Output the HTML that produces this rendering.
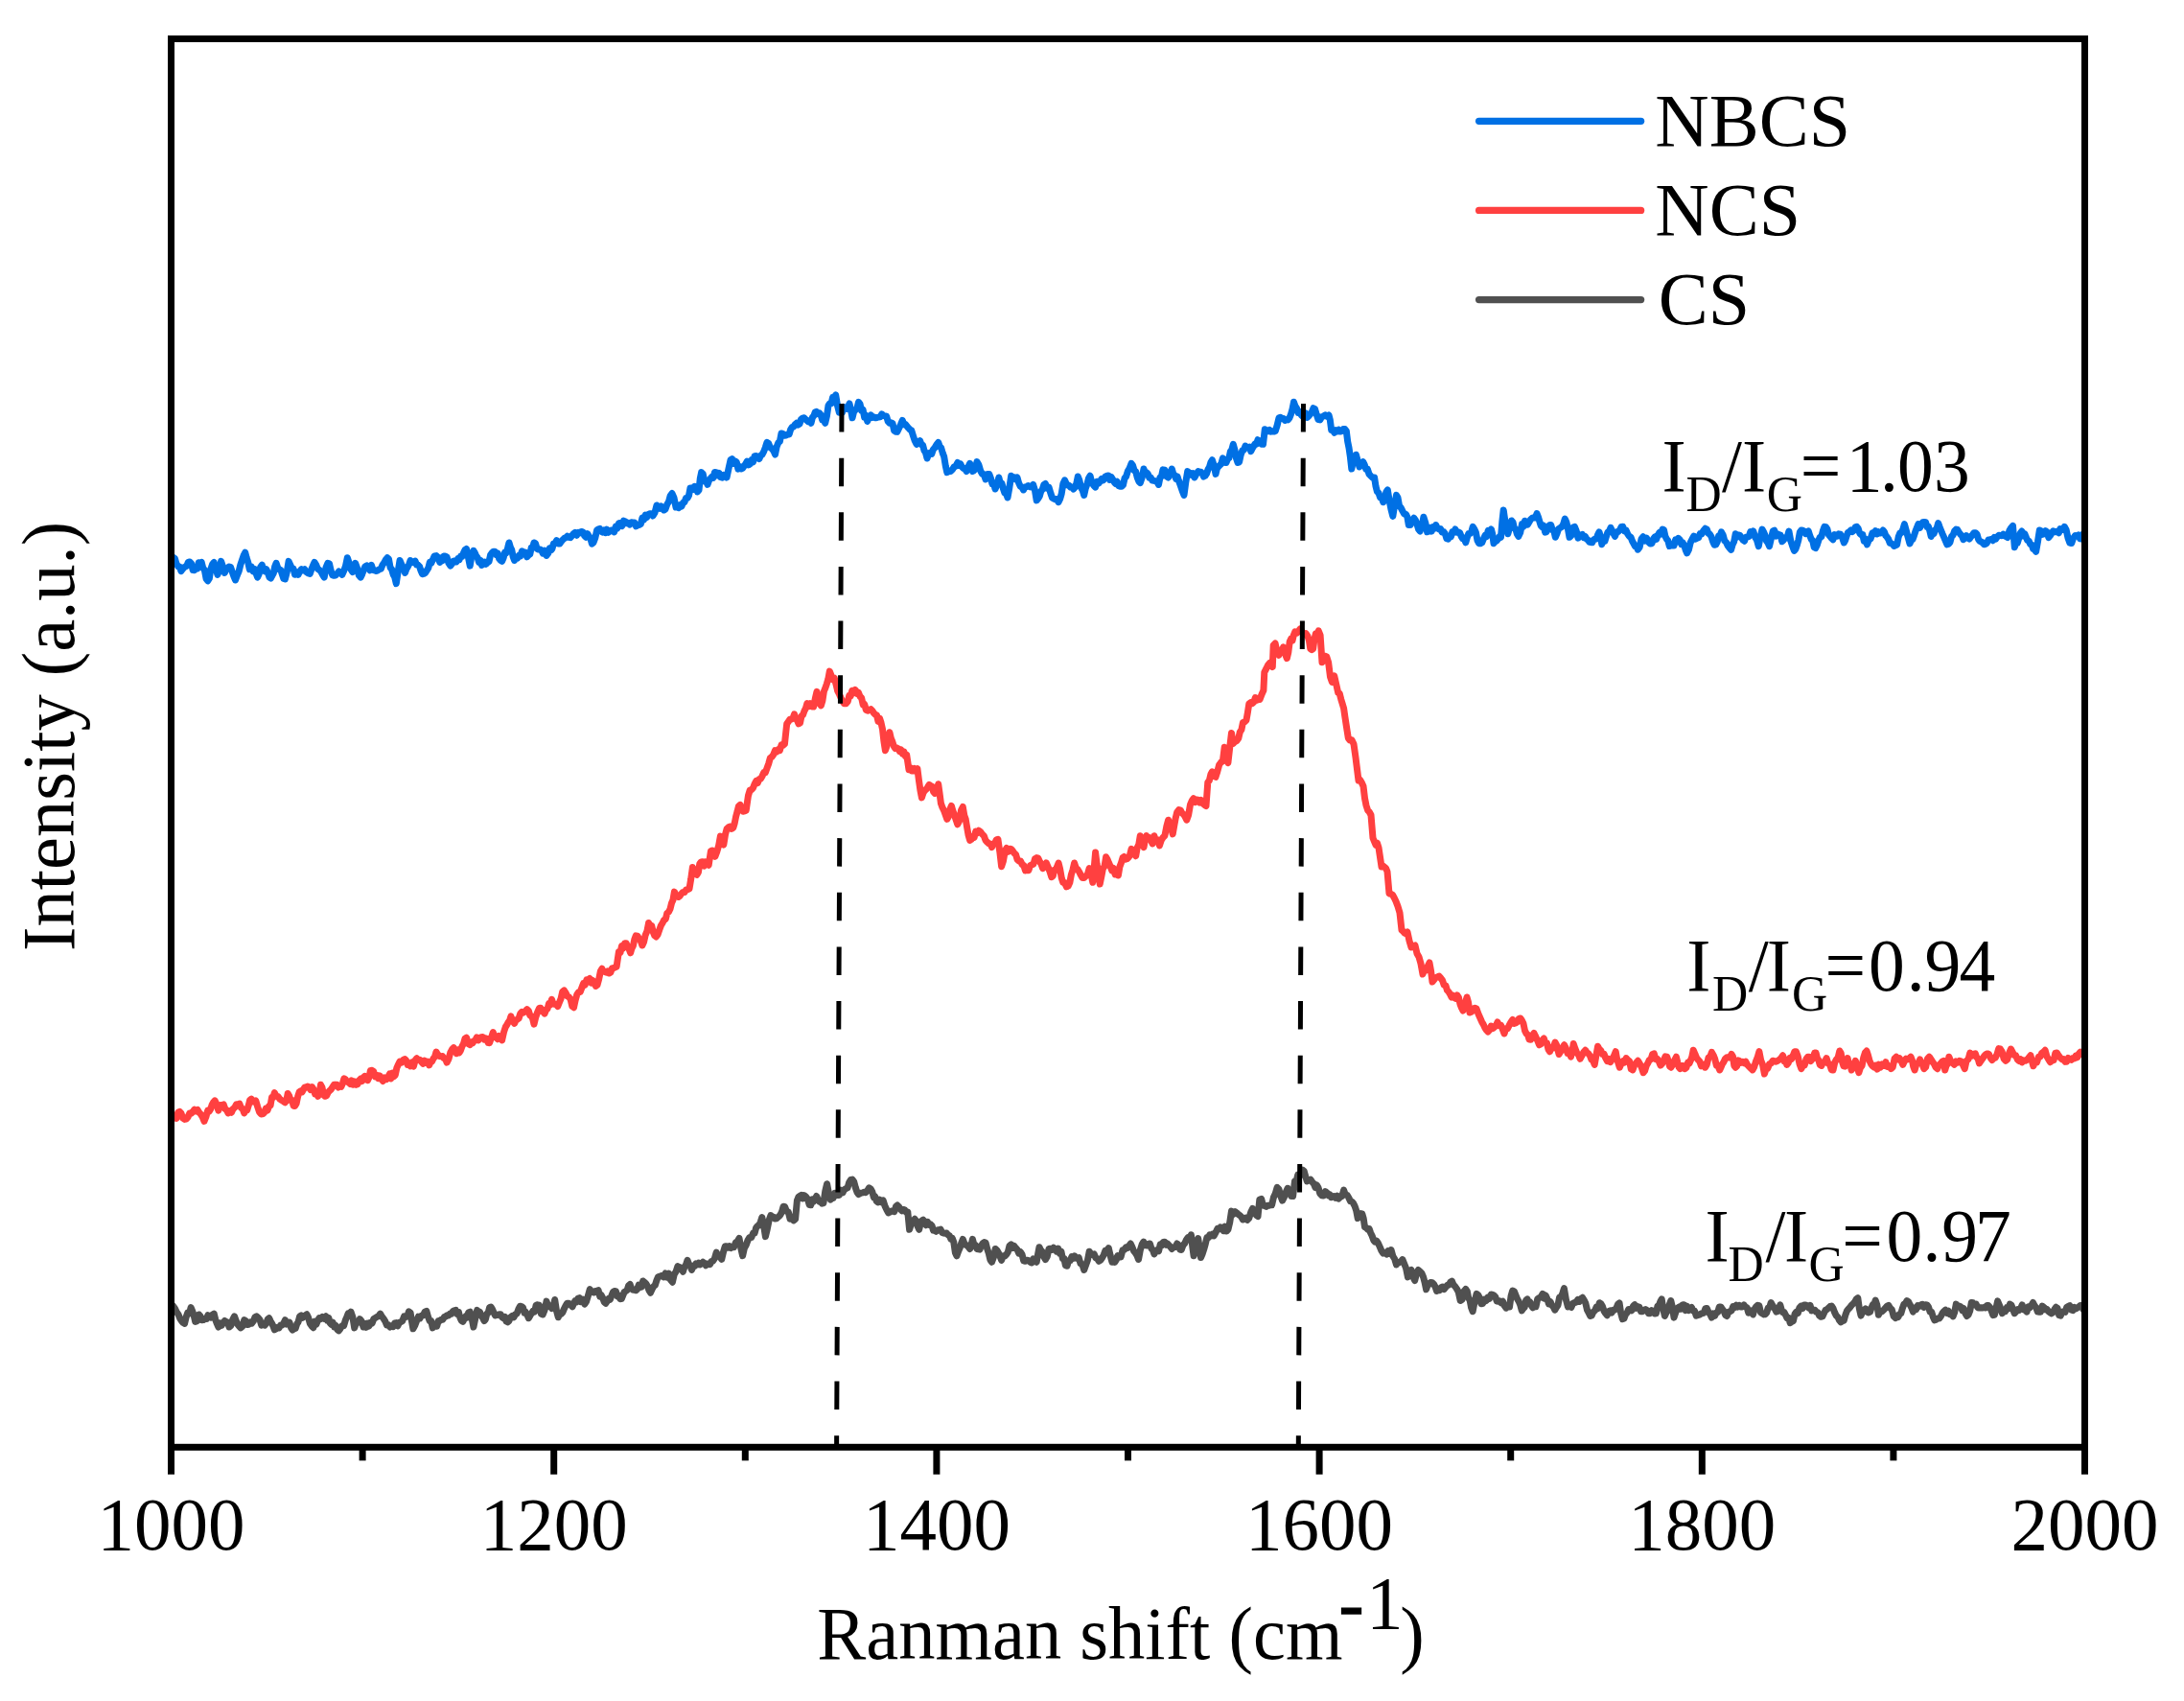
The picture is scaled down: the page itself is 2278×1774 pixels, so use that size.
<!DOCTYPE html>
<html><head><meta charset="utf-8"><title>Raman spectra</title>
<style>html,body{margin:0;padding:0;background:#fff;}svg{display:block;}</style>
</head><body>
<svg width="2278" height="1774" viewBox="0 0 2278 1774">
<rect x="0" y="0" width="2278" height="1774" fill="#fff"/>
<defs><clipPath id="pa"><rect x="178.5" y="40.5" width="1996" height="1469"/></clipPath></defs>
<g clip-path="url(#pa)">
<path d="M178.5 1362.0L180.4 1361.7L182.4 1364.5L184.3 1368.5L186.1 1371.1L188.0 1375.6L189.5 1377.8L191.1 1379.5L192.6 1380.3L194.2 1373.5L195.8 1369.0L197.5 1369.8L199.1 1363.6L200.6 1367.1L202.2 1371.9L203.7 1378.4L205.6 1377.7L207.4 1371.0L209.0 1372.7L210.5 1376.8L212.1 1376.6L213.7 1375.5L215.3 1375.6L216.9 1371.7L218.4 1373.7L220.0 1374.2L221.6 1371.2L223.2 1370.1L224.7 1376.2L226.3 1380.4L227.8 1384.0L229.4 1379.8L231.1 1382.3L232.7 1379.7L234.3 1377.5L235.9 1378.5L237.4 1379.0L239.0 1384.0L240.8 1382.5L242.7 1376.4L244.5 1372.8L246.1 1377.1L247.8 1381.1L249.4 1383.2L251.0 1384.9L252.8 1383.3L254.7 1376.6L256.3 1377.5L257.8 1381.5L259.4 1381.2L261.0 1379.0L262.6 1380.1L264.3 1377.9L265.9 1373.8L267.6 1372.8L269.3 1374.4L271.0 1376.3L272.7 1382.1L274.4 1380.3L276.1 1382.1L277.6 1380.4L279.2 1376.0L280.7 1374.7L282.1 1377.8L283.5 1380.1L284.9 1382.9L286.3 1386.8L287.9 1385.9L289.5 1384.4L291.1 1384.9L292.6 1382.1L294.2 1382.1L295.8 1380.2L297.4 1376.6L298.9 1381.1L300.5 1380.7L302.0 1379.2L303.6 1384.9L305.1 1387.1L306.7 1385.8L308.2 1385.4L309.7 1380.7L311.1 1378.7L312.6 1372.9L314.1 1371.9L315.6 1374.3L317.1 1373.1L318.5 1371.7L320.0 1370.8L321.5 1373.8L323.4 1380.5L325.2 1383.0L326.8 1384.7L328.3 1378.1L329.9 1381.1L331.4 1377.5L332.9 1374.7L334.5 1375.6L336.3 1373.4L338.2 1375.3L340.0 1372.8L341.4 1377.1L342.8 1374.3L344.2 1379.8L345.6 1381.2L347.2 1379.2L348.7 1384.0L350.2 1382.5L351.8 1386.6L353.3 1387.9L354.9 1385.8L356.7 1382.8L358.6 1382.7L360.4 1376.6L361.8 1373.4L363.2 1369.9L364.6 1370.9L366.0 1368.2L367.9 1373.7L369.7 1384.9L371.1 1380.8L372.5 1379.7L373.9 1378.6L375.3 1375.6L377.1 1377.7L379.0 1384.0L380.5 1380.3L382.0 1384.3L383.4 1380.1L384.9 1383.0L386.4 1379.3L388.1 1380.1L389.8 1375.5L391.5 1374.5L393.2 1373.3L394.9 1372.5L396.6 1370.1L398.3 1373.0L400.0 1375.1L401.7 1377.8L403.4 1382.0L405.1 1381.7L406.8 1384.0L408.4 1382.8L410.1 1383.7L411.7 1380.0L413.3 1379.6L414.9 1382.8L416.6 1379.3L418.2 1378.6L419.8 1377.5L421.5 1372.9L423.1 1373.6L424.8 1372.9L426.4 1367.9L428.1 1369.1L429.5 1378.1L430.9 1385.8L432.8 1382.4L434.6 1377.5L436.3 1373.2L438.0 1374.9L439.7 1372.2L441.4 1371.8L443.1 1368.1L444.8 1367.3L446.4 1372.9L448.1 1377.5L449.7 1377.6L451.3 1384.9L452.8 1380.8L454.3 1383.0L455.7 1383.2L457.2 1377.5L458.7 1377.5L460.2 1376.3L461.8 1376.2L463.4 1373.6L464.9 1373.0L466.4 1371.7L468.0 1371.9L469.5 1370.0L471.0 1370.3L472.4 1367.4L473.9 1366.8L475.4 1366.4L476.9 1370.4L478.4 1368.4L479.8 1374.0L481.3 1377.4L482.8 1378.4L484.3 1375.2L485.8 1372.7L487.2 1374.1L488.7 1368.7L490.2 1368.2L492.0 1374.2L493.9 1384.0L495.8 1374.8L497.6 1366.4L499.1 1369.8L500.6 1368.5L502.0 1372.0L503.5 1374.3L505.0 1377.5L506.4 1376.0L507.8 1370.2L509.2 1369.2L510.6 1363.6L512.1 1363.1L513.6 1365.6L515.0 1368.9L516.5 1371.8L518.0 1371.0L519.4 1371.4L520.8 1370.8L522.2 1370.8L523.6 1373.8L525.1 1374.7L526.6 1373.4L528.0 1377.9L529.5 1378.8L531.0 1377.5L532.6 1373.7L534.2 1372.4L535.9 1373.8L537.5 1370.9L539.1 1370.0L540.8 1365.4L542.4 1362.2L544.0 1362.6L545.5 1363.8L547.0 1369.2L548.4 1368.5L549.9 1371.4L551.4 1374.7L553.0 1371.9L554.5 1369.6L556.0 1367.2L557.6 1368.0L559.2 1361.1L560.7 1360.8L562.5 1361.2L564.4 1370.3L566.2 1371.0L568.1 1366.3L570.0 1357.1L571.8 1362.5L573.7 1361.6L575.5 1364.5L577.1 1362.7L578.7 1355.5L580.5 1367.2L582.3 1373.8L583.8 1369.7L585.4 1370.4L586.9 1368.5L588.4 1365.0L590.0 1361.7L591.5 1359.2L593.3 1359.2L595.2 1360.7L597.0 1362.9L598.5 1359.4L599.9 1356.6L601.4 1357.9L602.8 1354.3L604.3 1353.7L606.1 1357.7L608.0 1355.2L609.8 1360.1L611.6 1357.3L613.5 1350.9L615.3 1344.5L616.8 1347.4L618.2 1347.6L619.7 1348.0L621.1 1346.5L622.6 1346.4L624.1 1345.6L625.7 1352.1L627.2 1350.8L628.7 1353.7L630.3 1358.0L631.8 1359.2L633.3 1357.2L634.8 1354.4L636.3 1355.4L637.9 1351.3L639.4 1347.6L640.9 1346.4L642.4 1346.6L643.9 1351.8L645.3 1351.2L646.8 1354.7L648.3 1354.6L649.8 1351.0L651.2 1347.3L652.7 1346.6L654.1 1345.5L655.6 1340.9L657.1 1339.5L658.6 1343.9L660.2 1345.2L661.7 1345.1L663.2 1345.8L664.7 1344.5L666.2 1340.1L667.7 1342.4L669.1 1342.3L670.6 1336.0L672.1 1337.2L673.7 1338.6L675.3 1341.3L676.9 1345.6L678.5 1348.2L680.1 1344.5L681.7 1341.6L683.3 1340.3L684.9 1335.4L686.4 1331.7L687.8 1331.2L689.3 1330.9L690.7 1330.2L692.2 1331.7L694.0 1327.9L695.9 1332.1L697.7 1328.1L699.5 1334.8L701.4 1337.2L703.2 1329.2L705.1 1326.2L706.9 1320.7L708.7 1321.4L710.6 1323.3L712.4 1326.2L713.9 1321.3L715.5 1319.1L717.0 1314.3L718.5 1318.2L720.0 1320.2L721.5 1324.4L723.0 1321.1L724.4 1320.5L725.9 1317.8L727.3 1318.9L728.8 1317.1L730.3 1318.9L731.8 1317.5L733.2 1316.2L734.7 1317.3L736.2 1319.8L737.7 1318.1L739.1 1318.6L740.6 1318.7L742.0 1315.4L743.5 1315.2L745.4 1312.5L747.2 1306.1L749.0 1309.3L750.9 1310.6L752.7 1313.4L754.5 1305.8L756.3 1299.7L757.8 1299.8L759.4 1301.2L760.9 1299.7L762.4 1301.5L764.0 1300.2L765.5 1300.6L767.3 1296.0L769.2 1294.7L771.0 1291.4L772.8 1301.7L774.6 1309.7L776.4 1301.7L778.3 1298.3L780.1 1293.3L781.9 1290.4L783.8 1290.6L785.6 1285.9L787.1 1286.1L788.7 1280.3L790.2 1278.6L791.7 1278.0L793.3 1274.3L794.8 1269.5L796.6 1278.1L798.4 1289.6L800.2 1282.1L802.1 1272.7L803.9 1267.6L805.4 1269.9L806.9 1269.3L808.3 1271.1L809.8 1270.9L811.3 1269.5L812.8 1268.3L814.2 1266.5L815.7 1263.3L817.1 1258.3L818.6 1258.5L820.4 1263.3L822.3 1264.1L824.1 1271.3L825.9 1269.2L827.8 1272.9L829.6 1271.3L831.4 1252.0L832.9 1248.2L834.3 1247.4L835.8 1246.4L837.2 1250.0L838.7 1246.6L840.5 1248.0L842.4 1250.4L844.2 1256.6L845.7 1256.8L847.2 1250.7L848.6 1253.2L850.1 1250.4L851.6 1247.5L853.1 1251.0L854.5 1253.1L856.0 1252.4L857.4 1255.1L858.9 1254.8L860.8 1242.0L862.6 1234.7L864.4 1244.5L866.2 1251.1L867.7 1249.7L869.1 1249.5L870.6 1244.4L872.0 1246.8L873.5 1243.8L875.3 1246.4L877.2 1241.2L879.0 1243.8L880.7 1240.5L882.4 1239.6L884.0 1238.9L885.7 1233.1L887.4 1230.5L889.1 1230.1L890.7 1232.5L892.3 1238.5L893.9 1243.2L895.5 1245.6L897.0 1244.6L898.4 1244.1L899.9 1243.9L901.3 1243.3L902.8 1243.8L904.6 1242.1L906.5 1238.8L908.3 1240.1L909.8 1242.9L911.3 1248.5L912.7 1247.9L914.2 1252.6L915.7 1253.9L917.5 1251.2L919.4 1253.8L921.2 1252.0L923.0 1257.8L924.8 1261.6L926.6 1264.9L928.2 1264.1L929.7 1263.0L931.3 1263.0L932.9 1263.6L934.5 1258.2L936.0 1257.0L937.6 1258.5L939.1 1260.9L940.7 1262.8L942.2 1261.4L943.7 1261.8L945.3 1264.4L946.8 1264.0L948.6 1282.3L950.4 1276.7L952.3 1273.6L954.1 1271.3L955.6 1273.2L957.2 1279.1L958.7 1282.3L960.0 1276.6L961.4 1273.1L962.9 1272.1L964.5 1275.5L966.0 1277.7L967.5 1274.3L969.1 1277.4L970.6 1276.8L972.1 1278.4L973.5 1283.3L975.0 1283.3L976.5 1284.3L978.1 1282.8L979.6 1283.0L981.1 1282.2L982.7 1285.4L984.2 1286.0L985.7 1286.2L987.2 1285.9L988.8 1287.9L990.3 1288.6L991.8 1292.2L993.3 1291.5L994.8 1295.5L996.4 1306.6L997.9 1309.8L999.5 1305.3L1001.1 1301.7L1002.7 1296.6L1004.3 1292.4L1005.8 1296.4L1007.2 1298.4L1008.7 1298.8L1010.1 1300.4L1011.6 1302.5L1013.0 1298.8L1014.4 1292.4L1015.9 1297.9L1017.5 1298.5L1019.0 1302.5L1020.5 1302.8L1022.0 1303.1L1023.5 1299.1L1025.1 1296.6L1026.6 1295.6L1028.1 1296.1L1029.7 1302.4L1031.3 1307.2L1032.9 1313.9L1034.5 1316.2L1036.3 1311.5L1038.2 1302.5L1039.8 1303.9L1041.4 1306.6L1043.0 1310.0L1044.6 1314.4L1046.3 1309.8L1048.0 1310.1L1049.7 1308.3L1051.3 1305.8L1053.0 1299.2L1054.7 1297.9L1056.3 1301.5L1057.9 1299.5L1059.5 1301.6L1061.1 1303.4L1062.7 1307.2L1064.4 1305.7L1066.0 1308.1L1067.7 1314.9L1069.3 1315.3L1071.0 1314.2L1072.7 1314.7L1074.4 1316.2L1076.1 1316.9L1077.8 1313.0L1079.5 1315.1L1081.2 1316.2L1082.6 1308.1L1084.0 1300.7L1085.6 1303.8L1087.2 1305.4L1088.8 1310.8L1090.4 1313.5L1092.2 1310.7L1094.0 1302.5L1095.6 1302.2L1097.2 1303.4L1098.8 1301.2L1100.5 1302.5L1102.1 1305.2L1103.7 1302.2L1105.3 1307.2L1106.9 1305.2L1108.4 1312.6L1109.9 1312.6L1111.4 1319.9L1113.0 1320.2L1114.7 1314.5L1116.3 1314.6L1117.9 1310.7L1119.4 1312.4L1120.8 1309.8L1122.3 1312.3L1123.7 1312.3L1125.2 1311.6L1127.0 1317.7L1128.9 1318.8L1130.7 1324.5L1132.5 1319.6L1134.4 1314.4L1136.2 1305.2L1137.9 1307.9L1139.5 1308.8L1141.2 1307.9L1142.9 1311.9L1144.5 1312.7L1146.2 1315.3L1147.9 1314.3L1149.6 1311.8L1151.2 1308.8L1152.9 1304.3L1154.6 1304.8L1156.3 1301.6L1158.2 1309.7L1160.0 1316.2L1161.5 1313.2L1162.9 1316.3L1164.4 1313.8L1165.8 1309.5L1167.3 1310.7L1169.1 1310.9L1171.0 1303.7L1172.8 1303.4L1174.4 1300.8L1176.0 1301.5L1177.6 1299.2L1179.2 1297.0L1180.9 1300.6L1182.5 1304.5L1184.2 1306.6L1185.8 1309.1L1187.5 1313.5L1189.3 1303.8L1191.1 1297.9L1192.8 1295.1L1194.4 1298.8L1196.1 1298.9L1197.7 1297.4L1199.4 1297.0L1200.9 1302.1L1202.4 1303.5L1203.9 1308.0L1205.5 1304.8L1207.0 1303.6L1208.6 1304.7L1210.2 1297.9L1211.8 1298.9L1213.3 1295.5L1214.9 1295.2L1216.4 1298.3L1217.9 1297.2L1219.3 1298.6L1220.8 1300.5L1222.3 1302.5L1224.1 1300.9L1225.9 1300.5L1227.7 1297.0L1229.2 1298.3L1230.8 1303.3L1232.3 1303.4L1234.0 1298.5L1235.7 1296.8L1237.3 1293.2L1239.0 1290.7L1240.7 1292.1L1242.4 1287.8L1243.8 1300.2L1245.1 1309.8L1246.6 1301.8L1248.2 1295.7L1249.7 1291.5L1251.1 1301.0L1252.5 1311.6L1254.1 1307.8L1255.7 1303.0L1257.3 1297.3L1258.9 1290.6L1260.4 1290.8L1261.8 1287.8L1263.3 1288.9L1264.7 1287.3L1266.2 1288.8L1268.1 1285.3L1269.9 1281.4L1271.5 1281.9L1273.0 1279.9L1274.6 1280.3L1276.2 1283.6L1277.8 1279.2L1279.3 1284.0L1280.9 1282.3L1282.7 1275.0L1284.5 1263.1L1286.3 1266.4L1288.2 1263.7L1290.0 1265.0L1291.6 1266.4L1293.1 1267.6L1294.7 1268.9L1296.3 1272.0L1297.9 1271.3L1299.4 1270.1L1301.0 1272.3L1302.8 1270.5L1304.7 1264.3L1306.5 1260.4L1308.3 1263.7L1310.2 1267.2L1312.0 1268.6L1313.8 1251.2L1315.6 1250.3L1317.5 1257.1L1319.3 1257.6L1320.8 1258.4L1322.2 1257.2L1323.7 1257.2L1325.1 1256.6L1326.6 1256.7L1328.4 1248.8L1330.3 1244.7L1332.1 1238.4L1333.9 1240.2L1335.8 1247.5L1337.6 1252.1L1339.4 1248.7L1341.3 1243.2L1343.1 1239.3L1344.9 1242.4L1346.8 1247.5L1348.6 1247.5L1350.5 1232.0L1352.1 1232.0L1353.8 1225.1L1355.4 1226.6L1357.1 1223.2L1358.7 1220.1L1360.2 1221.4L1361.8 1227.2L1363.3 1232.0L1365.1 1230.7L1367.0 1230.1L1368.8 1232.9L1370.3 1234.5L1371.9 1238.3L1373.5 1236.0L1375.0 1238.5L1376.8 1244.8L1378.7 1246.7L1380.5 1247.0L1382.4 1242.7L1384.2 1244.0L1385.7 1246.9L1387.1 1246.0L1388.6 1248.7L1390.0 1248.2L1391.5 1247.6L1393.1 1249.3L1394.7 1247.1L1396.3 1250.1L1397.9 1248.5L1399.8 1247.4L1401.6 1241.2L1403.4 1246.1L1405.2 1246.4L1407.0 1249.5L1408.5 1252.9L1410.1 1253.1L1411.6 1255.0L1413.1 1257.8L1414.7 1262.6L1416.2 1270.5L1417.7 1266.4L1419.3 1265.6L1420.8 1265.9L1422.2 1270.8L1423.5 1279.7L1425.0 1280.3L1426.6 1282.1L1428.1 1281.5L1429.6 1285.7L1431.2 1289.0L1432.7 1293.4L1434.2 1295.2L1435.8 1294.1L1437.3 1296.2L1439.1 1300.1L1440.9 1304.4L1442.7 1307.2L1444.6 1306.3L1446.4 1308.1L1447.9 1304.7L1449.5 1307.4L1451.0 1303.5L1452.8 1310.0L1454.7 1313.0L1456.5 1319.0L1458.1 1316.9L1459.7 1316.5L1461.3 1315.5L1462.9 1313.6L1464.7 1318.0L1466.6 1322.8L1468.4 1331.9L1470.2 1326.5L1472.1 1324.5L1473.9 1331.7L1475.7 1335.5L1477.6 1327.9L1479.4 1324.5L1481.2 1326.1L1483.1 1328.2L1484.6 1331.9L1486.1 1337.5L1487.6 1344.7L1489.1 1340.3L1490.7 1339.3L1492.2 1337.4L1493.8 1337.7L1495.4 1339.1L1497.0 1341.9L1498.6 1346.5L1500.2 1344.1L1501.7 1345.6L1503.3 1342.7L1504.8 1342.0L1506.4 1344.5L1508.0 1342.4L1509.6 1340.3L1511.2 1340.2L1512.8 1337.2L1514.4 1336.1L1516.0 1339.9L1517.6 1341.5L1519.2 1343.7L1521.2 1347.3L1523.2 1356.5L1525.1 1355.3L1526.9 1346.8L1528.8 1344.5L1530.3 1346.7L1531.7 1353.6L1533.2 1356.4L1534.6 1363.8L1536.1 1367.7L1538.1 1357.6L1540.1 1349.3L1541.7 1350.5L1543.3 1353.5L1544.9 1359.7L1546.6 1359.5L1548.4 1355.2L1550.1 1356.6L1551.8 1353.1L1553.6 1354.3L1555.3 1350.1L1556.8 1350.2L1558.3 1351.1L1559.8 1352.5L1561.2 1357.0L1562.7 1357.2L1564.2 1356.7L1565.7 1358.9L1567.5 1357.3L1569.2 1361.6L1571.0 1364.1L1572.7 1362.7L1574.5 1362.9L1576.1 1351.5L1577.7 1346.1L1579.3 1346.7L1580.9 1350.6L1582.5 1354.5L1584.1 1357.2L1585.7 1360.8L1587.3 1366.9L1588.7 1364.8L1590.2 1363.3L1591.6 1356.1L1593.0 1354.9L1594.4 1359.3L1595.9 1358.0L1597.3 1361.5L1598.8 1363.8L1600.2 1362.9L1602.0 1362.8L1603.7 1354.7L1605.5 1353.6L1607.2 1352.7L1609.0 1349.3L1610.6 1354.1L1612.2 1351.0L1613.8 1354.4L1615.4 1359.8L1617.0 1357.5L1618.6 1361.2L1620.2 1363.0L1621.8 1366.1L1623.4 1363.4L1625.0 1361.2L1626.6 1352.9L1628.2 1352.6L1629.8 1348.8L1631.4 1343.7L1633.4 1355.3L1635.4 1362.9L1637.2 1362.3L1638.9 1363.5L1640.7 1359.2L1642.4 1358.5L1644.2 1358.1L1645.8 1355.3L1647.4 1357.4L1649.0 1354.4L1650.6 1353.3L1652.2 1355.8L1653.8 1359.0L1655.5 1366.1L1657.1 1369.3L1658.7 1372.5L1660.3 1371.9L1661.9 1368.2L1663.5 1366.9L1665.1 1363.1L1666.7 1364.6L1668.3 1358.7L1669.9 1359.7L1671.5 1362.5L1673.1 1367.3L1674.7 1369.8L1676.3 1371.7L1677.9 1367.7L1679.5 1366.9L1681.1 1369.0L1682.7 1366.2L1684.3 1366.0L1685.9 1364.3L1687.5 1360.2L1689.1 1358.9L1690.7 1369.7L1692.3 1375.7L1693.9 1375.2L1695.5 1370.8L1697.1 1369.1L1698.7 1365.4L1700.3 1365.4L1701.9 1366.8L1703.5 1362.1L1705.1 1360.7L1706.7 1364.4L1708.3 1362.6L1709.9 1363.3L1711.5 1367.7L1713.1 1367.7L1714.7 1366.4L1716.3 1365.6L1717.9 1366.5L1719.5 1369.8L1721.2 1369.7L1722.8 1366.6L1724.4 1368.2L1726.0 1370.1L1727.4 1369.9L1728.9 1362.3L1730.3 1361.4L1731.8 1357.5L1733.2 1354.9L1734.8 1365.4L1736.4 1372.5L1738.0 1369.1L1739.6 1366.2L1741.2 1360.7L1742.8 1356.5L1744.4 1363.4L1746.0 1374.1L1747.9 1368.4L1749.7 1364.1L1751.6 1362.9L1753.2 1365.1L1754.8 1361.0L1756.4 1360.7L1758.0 1366.6L1759.6 1362.2L1761.2 1366.6L1762.8 1364.5L1764.4 1363.5L1766.0 1367.2L1767.6 1367.2L1769.2 1372.2L1770.8 1371.7L1772.4 1371.2L1774.0 1370.2L1775.6 1369.7L1777.2 1369.1L1778.8 1364.8L1780.4 1364.5L1782.0 1368.3L1783.7 1370.6L1785.3 1374.1L1786.9 1369.9L1788.5 1372.4L1790.1 1369.1L1791.7 1368.5L1793.3 1363.0L1794.9 1362.9L1796.5 1365.5L1798.1 1367.5L1799.7 1371.5L1801.3 1372.5L1802.9 1368.1L1804.5 1367.8L1806.1 1366.8L1807.7 1362.5L1809.3 1363.5L1810.9 1361.3L1812.5 1363.0L1814.1 1361.4L1815.7 1363.0L1817.3 1363.0L1818.9 1360.9L1820.5 1362.9L1822.1 1363.6L1823.7 1369.1L1825.3 1366.7L1826.9 1368.9L1828.5 1370.9L1830.1 1365.2L1831.7 1362.8L1833.3 1361.3L1834.9 1361.7L1836.5 1368.7L1838.1 1369.9L1839.7 1370.9L1841.2 1370.7L1842.7 1368.9L1844.2 1364.1L1845.7 1363.6L1847.2 1358.5L1849.1 1361.9L1850.9 1364.4L1852.8 1368.1L1854.8 1367.2L1856.8 1360.9L1858.2 1365.9L1859.6 1368.8L1861.0 1368.6L1862.4 1371.3L1864.0 1374.7L1865.6 1374.3L1867.2 1379.7L1868.8 1378.5L1870.4 1377.6L1872.1 1370.3L1873.7 1368.1L1875.3 1369.5L1876.9 1363.8L1878.5 1362.1L1880.1 1364.6L1881.7 1360.9L1883.3 1360.9L1884.9 1362.1L1886.5 1364.0L1888.1 1361.5L1889.7 1366.9L1891.3 1366.5L1892.9 1366.2L1894.5 1368.2L1896.1 1368.8L1897.7 1372.2L1899.3 1373.3L1900.9 1372.9L1902.5 1369.5L1904.1 1366.4L1905.7 1365.5L1907.3 1364.0L1908.9 1362.5L1910.5 1362.1L1912.1 1364.7L1913.7 1368.9L1915.3 1372.2L1916.9 1373.6L1918.5 1377.0L1920.1 1378.8L1921.7 1377.7L1923.3 1377.1L1924.9 1371.2L1926.5 1367.0L1928.1 1365.1L1929.7 1363.3L1931.3 1361.2L1932.9 1359.6L1934.6 1357.8L1936.2 1354.8L1937.8 1353.7L1939.4 1365.0L1941.0 1372.1L1942.6 1368.4L1944.2 1367.1L1945.8 1364.9L1947.4 1368.3L1949.0 1368.9L1950.6 1368.1L1952.0 1363.9L1953.4 1360.6L1954.8 1360.9L1956.2 1356.1L1957.8 1360.8L1959.4 1371.3L1961.2 1367.3L1963.0 1367.9L1964.8 1366.1L1966.6 1364.1L1968.2 1362.1L1969.8 1361.4L1971.4 1364.1L1973.3 1365.8L1975.1 1372.7L1977.0 1374.5L1978.4 1372.4L1979.9 1373.5L1981.3 1370.5L1982.8 1369.7L1984.2 1364.9L1985.8 1360.3L1987.4 1359.4L1989.0 1356.6L1990.6 1357.7L1992.2 1360.8L1993.8 1363.7L1995.4 1368.1L1997.0 1364.0L1998.7 1365.6L2000.3 1361.5L2001.9 1362.5L2003.5 1361.0L2005.1 1360.3L2006.7 1363.4L2008.3 1360.7L2009.9 1360.9L2011.5 1363.1L2013.1 1368.1L2014.7 1368.3L2016.3 1373.5L2017.9 1376.9L2019.5 1376.2L2021.1 1375.1L2022.7 1375.1L2024.3 1373.0L2025.9 1369.7L2027.5 1367.6L2029.1 1366.3L2030.7 1369.4L2032.3 1367.3L2033.9 1370.9L2035.5 1371.1L2037.1 1372.9L2038.7 1368.5L2040.3 1360.1L2041.9 1362.0L2043.5 1362.0L2045.1 1362.9L2046.7 1366.5L2048.3 1364.8L2049.9 1369.8L2051.5 1372.5L2053.1 1371.3L2054.7 1367.3L2056.3 1358.5L2057.9 1358.8L2059.6 1360.6L2061.2 1360.1L2062.8 1363.7L2064.4 1364.0L2066.0 1363.7L2067.6 1364.1L2069.2 1363.4L2070.8 1363.9L2072.4 1361.6L2074.0 1361.6L2075.6 1363.3L2077.2 1367.1L2078.8 1371.6L2080.4 1371.3L2082.0 1364.4L2083.6 1356.9L2085.2 1360.6L2086.8 1364.5L2088.4 1369.7L2090.0 1367.5L2091.6 1367.7L2093.2 1363.7L2094.8 1364.8L2096.4 1360.1L2098.0 1361.2L2099.6 1365.4L2101.2 1369.7L2102.8 1368.1L2104.4 1365.7L2106.0 1366.5L2107.6 1364.6L2109.2 1360.9L2110.8 1365.9L2112.4 1366.4L2114.0 1368.1L2115.6 1362.9L2117.2 1363.7L2118.9 1361.2L2120.5 1358.5L2122.1 1361.6L2123.7 1363.6L2125.3 1368.1L2126.9 1368.2L2128.5 1368.2L2130.1 1362.1L2131.7 1363.3L2133.3 1365.7L2134.9 1365.3L2136.5 1367.6L2138.1 1368.9L2139.7 1369.9L2141.3 1368.9L2142.9 1365.6L2144.5 1363.3L2146.1 1364.4L2147.7 1371.7L2149.3 1372.1L2150.9 1368.3L2152.5 1367.6L2154.1 1368.3L2155.7 1363.3L2157.3 1362.5L2158.9 1361.6L2160.5 1366.2L2162.1 1366.6L2163.7 1363.3L2165.3 1364.9L2166.8 1363.9L2168.4 1362.8L2169.9 1361.5L2171.4 1361.8L2173.0 1365.8L2174.5 1362.5" fill="none" stroke="#505050" stroke-width="7.0" stroke-linejoin="round" stroke-linecap="round"/>
<path d="M178.5 1163.0L180.4 1166.5L182.4 1164.6L184.0 1166.4L185.7 1160.1L187.3 1159.3L188.9 1160.9L190.8 1166.2L192.6 1167.4L194.3 1167.1L196.0 1165.0L197.7 1161.1L199.4 1161.2L201.1 1159.5L202.8 1157.2L204.4 1158.9L206.1 1157.5L207.7 1160.3L209.3 1161.9L211.2 1165.0L213.0 1169.3L214.8 1165.0L216.7 1158.1L218.2 1159.0L219.7 1156.7L221.1 1152.2L222.6 1149.6L224.1 1147.9L225.9 1151.6L227.8 1158.1L229.7 1152.6L231.6 1152.6L233.2 1151.8L234.8 1156.5L236.4 1157.7L238.0 1160.9L239.7 1158.6L241.4 1160.2L243.1 1156.5L244.8 1155.1L246.5 1151.7L248.2 1151.7L249.8 1151.1L251.4 1155.3L253.1 1156.4L254.7 1160.9L256.2 1158.0L257.7 1158.0L259.2 1153.1L260.7 1147.2L262.2 1146.1L263.7 1149.1L265.3 1149.1L266.8 1148.0L268.6 1154.0L270.5 1159.7L272.3 1161.9L274.0 1161.8L275.7 1160.3L277.3 1156.0L279.0 1158.1L280.7 1153.5L282.1 1152.8L283.5 1144.5L284.9 1144.6L286.3 1139.6L288.1 1143.1L290.0 1143.7L291.8 1146.1L293.7 1147.5L295.5 1148.5L297.4 1149.8L298.8 1147.7L300.2 1140.5L301.7 1143.1L303.2 1147.7L304.6 1147.4L306.1 1153.2L307.6 1153.5L309.1 1151.0L310.7 1143.4L312.2 1138.7L313.6 1137.9L315.0 1138.9L316.4 1136.5L317.8 1134.0L319.3 1134.2L320.9 1133.0L322.4 1133.9L323.9 1136.5L325.5 1133.6L327.0 1135.9L328.6 1140.8L330.1 1139.4L331.7 1143.3L333.1 1139.8L334.5 1131.3L336.0 1134.2L337.6 1142.0L339.1 1143.3L340.7 1142.5L342.2 1139.3L343.8 1137.4L345.3 1136.2L346.8 1133.8L348.4 1131.3L349.9 1131.1L351.5 1131.3L353.0 1134.0L354.5 1132.4L356.0 1133.3L357.4 1129.8L358.9 1124.8L360.4 1125.7L362.0 1128.4L363.6 1128.7L365.2 1130.5L366.7 1127.0L368.3 1131.2L369.9 1127.9L371.5 1131.3L373.0 1130.7L374.5 1126.9L376.0 1125.2L377.5 1127.6L379.0 1123.8L380.5 1122.4L382.1 1125.8L383.6 1126.6L385.0 1123.6L386.4 1116.4L388.0 1116.3L389.6 1117.4L391.3 1122.8L392.9 1121.5L394.5 1124.6L396.1 1121.9L397.8 1125.3L399.4 1127.5L401.2 1124.0L403.1 1125.5L404.9 1122.9L406.4 1120.0L407.9 1124.9L409.3 1119.0L410.8 1122.8L412.3 1121.1L413.9 1113.6L415.4 1110.3L417.0 1107.1L418.9 1108.1L420.7 1105.3L422.2 1104.5L423.7 1106.0L425.1 1110.3L426.6 1109.8L428.1 1111.8L429.8 1107.8L431.4 1112.1L433.1 1105.8L434.7 1103.8L436.4 1105.3L438.0 1105.2L439.6 1107.6L441.2 1109.2L442.8 1106.2L444.4 1108.3L446.0 1107.3L447.6 1110.9L449.1 1107.8L450.6 1106.9L452.0 1104.0L453.5 1102.2L455.0 1097.0L456.6 1099.7L458.2 1101.5L459.9 1101.7L461.5 1101.6L463.0 1103.6L464.6 1104.3L466.1 1108.1L468.0 1104.4L469.8 1097.7L471.7 1094.2L473.2 1092.6L474.7 1095.4L476.1 1098.7L477.6 1094.9L479.1 1097.9L480.6 1095.2L482.1 1090.9L483.5 1088.5L485.0 1083.1L486.5 1082.1L488.4 1088.6L490.2 1089.5L491.6 1086.9L493.0 1087.8L494.4 1085.6L495.8 1084.9L497.3 1081.9L498.9 1084.9L500.4 1082.3L501.9 1081.6L503.5 1081.4L505.0 1084.0L506.4 1082.9L507.8 1083.4L509.2 1087.6L510.6 1087.7L512.5 1082.2L514.3 1076.6L515.8 1080.9L517.4 1082.0L519.0 1083.7L520.5 1080.5L522.0 1083.2L523.6 1084.9L525.5 1076.5L527.3 1071.0L528.7 1068.8L530.1 1066.2L531.5 1064.5L532.9 1059.9L534.8 1064.9L536.6 1067.3L538.1 1064.0L539.7 1063.1L541.2 1061.9L542.8 1056.9L544.4 1055.3L545.9 1056.2L547.7 1055.0L549.6 1052.6L551.4 1054.3L552.8 1059.1L554.2 1059.7L555.6 1062.3L557.0 1068.2L558.8 1060.7L560.7 1055.5L562.5 1051.5L563.9 1051.2L565.3 1054.4L566.7 1055.5L568.1 1057.1L569.6 1053.0L571.1 1052.0L572.5 1046.5L574.0 1047.7L575.5 1042.3L577.0 1046.9L578.6 1047.3L580.2 1047.4L581.7 1049.6L583.4 1045.5L585.0 1041.7L586.7 1034.4L588.4 1032.9L590.1 1035.4L591.8 1039.0L593.5 1039.9L595.1 1042.3L596.8 1049.5L598.5 1050.7L600.1 1043.2L601.8 1037.3L603.5 1034.8L605.2 1034.6L606.8 1030.2L608.5 1025.6L610.2 1027.2L611.9 1021.7L613.5 1021.7L615.1 1020.4L616.7 1025.2L618.2 1022.5L619.8 1024.5L621.4 1028.5L623.0 1027.3L624.7 1021.1L626.4 1012.8L627.9 1010.3L629.4 1013.2L630.8 1013.4L632.3 1014.2L633.8 1012.9L635.3 1015.0L636.9 1014.2L638.4 1009.8L640.0 1009.7L641.5 1008.9L643.1 1008.3L645.4 992.7L647.0 993.5L648.5 986.6L650.1 988.8L651.6 983.7L653.2 983.7L654.7 987.5L656.1 989.8L657.6 993.8L659.0 989.1L660.4 986.4L661.8 979.7L663.2 975.9L664.9 976.2L666.5 978.7L668.2 981.0L669.9 986.0L671.6 982.2L673.2 975.1L674.9 971.1L676.6 962.5L678.2 966.6L679.7 965.4L681.3 972.2L682.8 975.8L684.4 977.0L686.1 974.7L687.8 969.7L689.4 965.3L691.1 962.5L692.7 959.3L694.3 958.5L695.8 952.4L697.4 951.1L699.0 948.0L700.5 941.9L701.9 938.8L703.4 930.1L704.8 933.1L706.2 934.9L707.6 935.5L709.0 934.6L710.7 932.1L712.3 930.4L714.0 930.6L715.7 928.0L717.3 927.7L719.0 926.8L720.7 916.7L722.4 904.5L723.9 909.6L725.4 910.2L726.9 912.3L728.4 909.7L729.8 900.9L731.3 898.9L732.9 898.7L734.5 903.2L736.0 898.8L737.6 901.0L739.2 902.2L741.4 887.7L742.9 887.0L744.4 889.0L745.9 893.3L747.7 888.6L749.6 882.1L751.4 872.1L753.1 877.4L754.8 881.0L756.5 870.4L758.1 864.3L759.8 862.8L761.5 862.1L763.1 864.4L764.8 863.1L766.2 858.6L767.6 851.6L769.0 846.5L770.4 840.8L772.0 839.4L773.5 842.8L775.1 846.2L776.6 845.9L778.2 845.3L780.5 829.6L782.2 824.1L783.9 823.6L785.5 821.7L787.2 817.4L788.8 814.4L790.3 816.6L791.9 812.4L793.4 812.3L795.0 809.5L796.7 805.6L798.3 805.8L800.0 801.1L801.7 796.5L803.3 790.6L805.0 789.4L806.7 787.1L808.4 782.7L810.0 784.1L811.7 781.6L813.4 782.5L815.0 776.9L816.7 777.5L818.4 776.0L820.7 754.8L822.3 752.7L823.8 750.2L825.4 750.1L826.9 749.4L828.5 744.8L830.0 749.4L831.5 751.3L833.0 754.8L834.5 754.0L836.0 746.7L837.5 745.7L838.9 741.6L840.4 738.7L841.9 733.6L843.6 736.6L845.2 733.6L846.9 736.9L848.6 737.0L850.3 728.6L852.0 721.3L853.5 727.1L854.9 733.8L856.4 735.8L857.9 730.7L859.4 721.0L860.8 717.7L862.3 713.3L863.8 708.3L865.3 700.1L867.0 704.4L868.6 708.7L870.3 707.3L872.0 713.5L873.7 720.6L875.4 723.8L877.0 727.6L878.7 731.4L880.6 733.8L882.4 733.7L884.3 731.4L885.8 725.3L887.3 725.8L888.8 720.2L890.5 722.4L892.1 719.5L893.8 723.3L895.5 722.4L897.1 726.5L898.6 727.7L900.2 735.0L901.7 734.5L903.3 740.3L905.0 741.2L906.6 740.5L908.3 739.6L910.0 741.4L911.5 743.8L913.0 745.3L914.5 745.8L916.0 752.4L917.5 749.1L919.0 753.7L920.5 760.4L921.9 772.9L923.4 782.7L924.9 778.4L926.4 771.1L927.9 763.8L929.4 770.2L930.8 773.4L932.3 778.3L933.8 780.6L935.3 779.9L936.8 780.8L938.3 783.5L939.8 782.0L941.3 786.1L942.8 783.9L944.2 788.4L945.7 787.2L948.0 802.8L949.5 800.7L951.0 803.9L952.5 804.0L953.9 801.5L955.4 802.9L956.9 801.7L958.4 813.5L959.9 824.0L961.4 831.9L963.0 827.0L964.5 824.5L966.1 823.1L967.6 821.0L969.2 818.5L970.7 819.5L972.1 820.0L973.5 825.5L975.0 827.4L976.9 825.4L978.7 817.7L980.0 826.9L981.4 837.8L983.0 842.2L984.6 845.3L986.2 849.8L987.8 854.3L989.3 851.9L990.9 844.0L992.4 840.5L994.0 846.2L995.6 850.1L997.2 855.2L998.8 859.8L1000.6 856.2L1002.5 845.1L1004.3 841.5L1005.8 850.4L1007.2 854.2L1008.7 863.3L1010.1 871.1L1011.6 876.3L1013.1 875.5L1014.7 872.3L1016.2 873.3L1017.7 867.1L1019.3 868.7L1020.8 866.2L1022.6 867.4L1024.5 870.0L1026.3 871.7L1027.9 876.2L1029.6 878.2L1031.2 879.6L1032.9 880.1L1034.5 883.6L1036.1 879.9L1037.7 879.2L1039.3 875.8L1040.9 875.3L1042.8 888.2L1044.6 903.7L1046.4 898.2L1048.3 887.3L1049.9 884.5L1051.5 888.3L1053.1 885.2L1054.7 885.4L1056.3 887.3L1057.9 889.8L1059.5 891.1L1061.1 896.4L1062.8 898.0L1064.5 898.1L1066.2 901.6L1067.8 902.5L1069.5 907.9L1071.2 907.4L1072.9 907.8L1074.5 902.8L1076.2 901.8L1077.9 901.4L1079.5 895.7L1081.2 894.6L1082.8 894.9L1084.4 898.5L1086.0 901.0L1087.6 905.6L1089.4 903.9L1091.3 900.0L1093.1 904.1L1095.0 908.9L1096.8 914.7L1098.3 913.5L1099.7 907.2L1101.2 907.7L1102.6 903.7L1104.1 900.0L1105.6 906.1L1107.2 915.4L1108.7 920.2L1110.5 920.5L1112.4 924.9L1114.2 923.9L1115.8 920.5L1117.4 912.0L1119.0 907.1L1120.6 900.0L1122.3 905.3L1124.0 906.7L1125.7 909.3L1127.3 912.6L1129.0 915.6L1130.7 915.6L1132.5 913.8L1134.4 911.8L1136.2 905.6L1138.0 911.6L1139.8 920.2L1141.2 905.4L1142.6 889.1L1144.1 901.1L1145.7 910.2L1147.2 922.0L1148.8 914.3L1150.4 905.9L1152.0 903.5L1153.6 893.7L1155.1 896.2L1156.7 900.2L1158.2 903.7L1159.8 907.9L1161.5 905.5L1163.1 912.0L1164.8 908.8L1166.4 912.9L1167.9 904.0L1169.5 899.8L1171.0 894.6L1172.5 893.4L1173.9 896.3L1175.4 895.8L1176.8 894.6L1178.3 892.7L1180.1 885.4L1181.6 887.5L1183.2 890.5L1184.7 892.7L1186.2 884.1L1187.8 880.7L1189.3 871.7L1191.2 877.0L1193.0 883.6L1194.3 876.4L1195.7 871.7L1197.3 874.6L1198.9 873.7L1200.5 876.7L1202.1 879.9L1203.9 871.7L1205.7 877.6L1207.6 876.0L1209.4 881.8L1211.2 876.3L1213.1 873.3L1214.9 871.7L1216.8 862.0L1218.6 855.2L1220.1 859.6L1221.7 863.5L1223.2 869.9L1224.7 861.3L1226.2 853.1L1227.7 847.0L1229.6 844.5L1231.4 845.1L1233.0 848.3L1234.6 849.2L1236.2 851.9L1237.8 855.2L1239.6 850.1L1241.5 839.1L1243.3 835.0L1244.9 832.6L1246.5 836.7L1248.1 833.9L1249.7 834.1L1251.2 837.0L1252.8 834.4L1254.3 837.8L1256.2 839.3L1258.0 840.5L1259.8 815.8L1261.3 814.2L1262.9 807.5L1264.4 804.8L1266.2 809.2L1268.0 810.3L1269.8 804.6L1271.7 797.5L1273.6 795.0L1275.4 793.8L1277.2 779.2L1279.1 790.4L1280.9 795.7L1282.7 779.5L1284.5 764.5L1286.3 775.5L1288.1 773.5L1290.0 772.6L1291.8 770.0L1293.3 763.4L1294.9 761.1L1296.4 753.6L1298.2 752.9L1300.0 751.0L1301.4 743.0L1302.8 734.0L1304.5 732.6L1306.1 733.7L1307.8 732.1L1309.4 727.5L1311.0 730.2L1312.5 728.5L1314.1 729.4L1316.0 724.2L1317.9 720.0L1318.8 701.1L1320.7 697.5L1322.6 693.6L1324.2 691.5L1325.7 692.5L1327.3 695.5L1328.2 672.9L1330.1 671.0L1332.0 680.1L1333.9 683.3L1335.5 678.2L1337.0 680.3L1338.6 674.8L1340.4 681.8L1342.3 686.6L1343.8 680.4L1345.2 669.2L1346.6 666.2L1348.0 668.2L1349.4 662.3L1350.8 658.8L1352.7 660.1L1354.6 657.9L1356.0 655.9L1357.4 657.4L1358.8 659.8L1360.2 661.6L1362.1 660.6L1364.0 663.5L1365.4 668.0L1366.8 676.7L1368.2 677.7L1369.6 676.7L1371.0 666.3L1372.4 660.7L1373.8 662.1L1375.3 657.9L1377.1 662.6L1378.1 677.6L1379.0 690.8L1380.4 688.4L1381.8 684.2L1383.7 684.8L1385.6 690.8L1387.5 705.9L1389.4 711.5L1391.7 704.9L1394.1 715.3L1395.7 722.4L1397.2 723.1L1398.8 729.4L1400.2 734.0L1401.6 738.8L1403.0 748.6L1404.4 757.6L1406.3 769.8L1408.0 772.0L1410.0 771.8L1412.0 776.0L1414.0 790.0L1415.5 802.0L1417.0 814.0L1418.7 813.4L1420.3 816.2L1422.0 820.0L1423.5 832.5L1425.0 840.0L1426.7 845.3L1428.3 846.8L1430.0 850.0L1432.0 874.0L1433.5 877.6L1435.0 881.3L1436.5 879.3L1438.0 884.0L1439.5 894.0L1441.0 904.0L1442.5 903.0L1444.0 904.2L1445.5 905.4L1447.0 909.0L1449.0 932.0L1450.8 932.3L1452.5 933.3L1454.2 936.3L1456.0 940.0L1458.0 945.3L1460.0 952.0L1462.0 970.0L1463.5 971.2L1465.0 973.2L1466.5 973.9L1468.0 972.0L1470.0 981.3L1472.0 988.0L1474.0 987.0L1476.0 986.0L1478.0 994.5L1480.0 998.0L1482.0 1005.0L1484.0 1016.0L1485.8 1010.6L1487.5 1011.9L1489.2 1007.8L1491.0 1004.0L1492.5 1012.3L1494.0 1024.0L1495.8 1021.8L1497.5 1019.8L1499.2 1019.1L1501.0 1018.0L1502.8 1020.1L1504.5 1022.4L1506.2 1027.3L1508.0 1028.0L1509.5 1032.9L1511.0 1034.4L1512.5 1036.8L1514.0 1040.0L1515.5 1038.2L1517.0 1040.6L1518.5 1041.4L1520.0 1038.0L1521.5 1040.4L1523.0 1047.2L1524.5 1051.2L1526.0 1054.0L1528.0 1047.9L1530.0 1040.0L1531.5 1045.2L1533.0 1056.0L1534.8 1055.3L1536.5 1052.2L1538.2 1051.2L1540.0 1052.0L1542.0 1057.5L1544.0 1062.0L1545.6 1065.7L1547.2 1068.4L1548.8 1071.9L1550.4 1074.4L1552.0 1076.0L1553.7 1074.2L1555.3 1070.0L1557.0 1072.6L1558.7 1071.3L1560.3 1069.7L1562.0 1066.0L1563.8 1069.6L1565.5 1069.2L1567.2 1073.2L1569.0 1078.0L1570.8 1072.7L1572.5 1072.8L1574.2 1069.3L1576.0 1066.0L1577.7 1063.5L1579.3 1067.4L1581.0 1066.9L1582.7 1065.7L1584.3 1062.4L1586.0 1062.0L1587.5 1064.4L1589.0 1067.6L1590.5 1074.9L1592.0 1077.9L1593.5 1079.0L1595.0 1084.0L1596.7 1084.2L1598.3 1080.1L1600.0 1077.5L1601.8 1081.1L1603.7 1085.2L1605.5 1089.8L1607.1 1088.9L1608.7 1085.0L1610.3 1083.0L1611.8 1087.4L1613.4 1087.6L1615.0 1094.5L1616.5 1096.7L1618.3 1092.1L1620.2 1092.8L1622.0 1087.1L1623.4 1089.5L1624.7 1094.4L1626.1 1099.5L1627.9 1096.5L1629.8 1092.4L1631.6 1089.8L1633.3 1093.1L1635.0 1098.5L1636.8 1097.3L1638.5 1102.2L1639.8 1097.0L1641.2 1088.5L1642.9 1093.6L1644.7 1098.1L1646.4 1100.0L1648.1 1104.3L1649.9 1101.0L1651.8 1097.4L1653.6 1095.3L1655.2 1097.7L1656.8 1098.9L1658.4 1101.0L1660.0 1105.2L1661.6 1106.0L1663.2 1110.4L1664.9 1100.6L1666.6 1091.2L1668.2 1094.4L1669.8 1095.6L1671.4 1099.5L1673.1 1099.2L1674.7 1103.4L1676.4 1106.6L1678.0 1104.4L1679.7 1107.7L1681.5 1104.7L1683.4 1101.3L1685.2 1096.7L1686.6 1104.5L1687.9 1108.8L1689.3 1113.2L1691.0 1109.6L1692.8 1106.6L1694.5 1108.0L1696.2 1103.6L1697.9 1105.5L1699.6 1106.8L1701.3 1115.0L1703.0 1115.9L1704.8 1110.9L1706.7 1108.4L1708.5 1106.3L1710.3 1109.3L1712.2 1113.1L1714.0 1118.7L1715.6 1116.8L1717.2 1111.4L1718.8 1108.7L1720.4 1105.4L1722.0 1104.7L1723.6 1099.5L1725.3 1098.9L1726.9 1104.6L1728.6 1104.3L1730.2 1106.7L1731.9 1111.1L1733.6 1109.5L1735.3 1105.9L1737.0 1101.8L1738.7 1102.2L1740.1 1106.4L1741.5 1112.0L1742.9 1113.2L1744.7 1110.4L1746.6 1105.8L1748.4 1102.2L1749.8 1108.1L1751.1 1113.0L1752.5 1114.6L1754.1 1111.6L1755.7 1111.5L1757.3 1114.6L1758.9 1113.4L1760.5 1108.2L1762.1 1109.0L1763.5 1105.7L1764.8 1102.1L1766.2 1095.3L1767.9 1099.1L1769.5 1103.1L1771.2 1105.3L1772.8 1106.9L1774.5 1111.8L1775.9 1110.5L1777.2 1110.1L1778.6 1113.2L1780.3 1110.2L1782.0 1103.1L1783.7 1102.1L1785.4 1097.4L1787.1 1100.4L1788.7 1104.4L1790.4 1111.3L1792.0 1111.6L1793.7 1115.9L1795.1 1113.0L1796.4 1109.7L1797.8 1107.7L1799.4 1104.4L1801.1 1102.8L1802.7 1103.0L1804.4 1103.0L1806.0 1099.5L1807.4 1101.6L1808.8 1111.3L1810.2 1113.2L1811.6 1111.9L1812.9 1105.9L1814.3 1106.3L1815.9 1108.4L1817.6 1107.3L1819.2 1108.8L1820.9 1107.2L1822.5 1110.4L1824.3 1112.3L1826.2 1114.2L1828.0 1115.9L1829.7 1112.8L1831.5 1106.8L1833.2 1102.7L1834.9 1096.7L1836.7 1105.9L1838.6 1110.6L1840.4 1120.0L1842.1 1114.4L1843.8 1114.4L1845.6 1109.5L1847.3 1109.0L1849.0 1106.2L1850.7 1106.6L1852.4 1107.2L1854.1 1106.3L1855.9 1105.2L1857.8 1103.5L1859.6 1100.8L1861.0 1106.7L1862.3 1104.8L1863.7 1110.4L1865.3 1108.5L1866.9 1103.4L1868.6 1104.6L1870.2 1100.9L1871.8 1096.8L1873.4 1096.7L1875.2 1101.5L1877.0 1109.6L1878.8 1114.6L1880.5 1111.3L1882.2 1111.1L1884.0 1104.4L1885.7 1102.2L1887.1 1102.2L1888.6 1106.6L1890.0 1105.0L1891.4 1103.3L1892.7 1098.0L1894.1 1098.1L1895.5 1103.9L1896.8 1105.5L1898.2 1110.4L1899.9 1111.4L1901.7 1107.8L1903.4 1107.1L1905.1 1103.6L1906.8 1109.1L1908.5 1109.9L1910.3 1115.7L1912.0 1116.0L1913.7 1108.2L1915.4 1105.0L1917.1 1103.0L1918.8 1096.0L1920.2 1098.3L1921.6 1107.6L1923.0 1111.8L1924.4 1112.1L1925.7 1107.6L1927.1 1103.6L1928.5 1109.9L1929.8 1109.3L1931.2 1116.0L1932.6 1113.0L1933.9 1110.2L1935.3 1106.3L1937.0 1112.1L1938.8 1118.7L1940.4 1113.7L1942.1 1111.4L1943.7 1103.1L1945.4 1097.8L1947.0 1096.0L1948.5 1100.5L1950.1 1106.7L1951.7 1109.8L1953.2 1111.8L1954.8 1113.1L1956.5 1111.1L1958.1 1115.1L1959.8 1110.2L1961.4 1113.2L1963.2 1109.8L1965.1 1111.3L1966.9 1107.7L1968.7 1112.4L1970.6 1111.7L1972.4 1114.6L1974.2 1112.9L1976.1 1104.0L1977.9 1102.2L1979.6 1104.8L1981.3 1103.7L1983.1 1106.8L1984.8 1110.4L1986.4 1106.9L1988.1 1104.2L1989.7 1104.9L1991.4 1103.8L1993.0 1102.2L1994.4 1105.5L1995.7 1112.3L1997.1 1116.0L1998.9 1109.6L2000.8 1108.8L2002.6 1105.0L2004.0 1108.4L2005.4 1110.8L2006.8 1114.6L2008.6 1113.0L2010.5 1104.1L2012.3 1102.2L2014.0 1104.5L2015.7 1107.5L2017.4 1109.7L2019.1 1113.2L2020.8 1114.7L2022.4 1110.9L2024.1 1109.2L2025.7 1107.3L2027.4 1106.3L2028.7 1116.0L2030.1 1111.0L2031.5 1109.5L2032.9 1102.2L2034.7 1106.7L2036.6 1108.6L2038.4 1110.4L2040.2 1107.0L2042.0 1108.2L2043.8 1106.3L2045.6 1106.8L2047.5 1110.9L2049.3 1114.6L2051.1 1106.2L2053.0 1104.8L2054.8 1098.1L2056.6 1101.2L2058.5 1099.4L2060.3 1098.8L2061.7 1102.6L2063.1 1104.1L2064.5 1109.0L2066.2 1106.3L2067.9 1104.0L2069.6 1101.4L2071.3 1099.5L2073.0 1098.9L2074.6 1099.5L2076.3 1103.5L2077.9 1105.5L2079.6 1103.6L2081.3 1103.1L2083.0 1099.5L2084.7 1093.6L2086.4 1094.0L2088.2 1096.9L2090.1 1104.2L2091.9 1106.3L2093.7 1105.0L2095.6 1098.4L2097.4 1094.0L2099.1 1097.2L2100.9 1100.6L2102.6 1100.7L2104.3 1105.0L2105.9 1106.5L2107.6 1104.7L2109.2 1107.9L2110.9 1105.8L2112.5 1106.3L2114.3 1105.4L2116.2 1103.0L2118.0 1100.8L2119.4 1106.5L2120.8 1111.8L2122.6 1108.4L2124.5 1108.1L2126.3 1102.2L2128.0 1102.0L2129.7 1098.3L2131.4 1097.1L2133.1 1095.3L2134.9 1101.8L2136.8 1105.0L2138.6 1107.7L2140.3 1106.2L2142.1 1105.7L2143.8 1098.2L2145.5 1098.1L2147.3 1101.0L2149.2 1103.4L2151.0 1105.0L2152.6 1104.5L2154.1 1107.4L2155.7 1107.2L2157.3 1103.5L2158.9 1104.7L2160.4 1105.4L2162.0 1103.6L2163.6 1103.9L2165.1 1101.1L2166.7 1102.8L2168.2 1099.2L2169.8 1097.2L2171.4 1099.4L2172.9 1098.5L2174.5 1096.7" fill="none" stroke="#ff4040" stroke-width="7.0" stroke-linejoin="round" stroke-linecap="round"/>
<path d="M178.5 584.0L180.4 581.1L182.4 582.6L184.0 587.9L185.7 590.7L187.3 590.9L188.9 595.6L190.4 593.7L191.9 591.6L193.3 591.0L194.8 590.0L196.3 586.4L197.9 586.0L199.6 587.7L201.2 594.6L202.8 594.7L204.3 592.6L205.8 593.0L207.2 586.7L208.7 587.7L210.2 586.4L211.8 592.6L213.4 594.5L215.1 603.6L216.7 605.8L218.3 603.4L219.9 593.3L221.6 588.4L223.2 586.4L225.1 593.1L226.9 599.3L228.8 595.0L230.6 585.4L232.4 590.7L234.3 597.5L235.9 593.6L237.4 592.7L239.0 591.0L240.6 591.6L242.2 596.3L243.9 601.1L245.5 604.9L247.3 600.2L249.2 595.6L250.8 589.1L252.4 584.3L254.1 579.4L255.7 576.2L257.2 581.8L258.8 586.7L260.3 593.8L262.2 590.9L264.0 595.8L265.9 593.8L267.2 598.3L268.6 602.1L270.2 598.6L271.7 591.5L273.3 589.1L274.8 594.4L276.4 595.9L277.9 593.8L279.4 597.4L281.0 602.0L282.5 603.0L283.9 600.3L285.3 597.8L286.7 590.8L288.1 587.3L289.7 592.1L291.2 593.9L292.8 594.5L294.3 599.0L295.8 603.5L297.4 604.0L299.2 596.8L301.1 585.4L302.7 588.9L304.4 592.9L306.0 593.0L307.6 599.3L309.3 596.8L311.0 599.3L312.7 596.0L314.4 593.7L316.1 595.0L317.8 593.8L319.6 596.6L321.5 597.9L323.3 598.4L324.9 593.6L326.4 590.0L328.0 586.4L329.7 589.1L331.4 593.3L333.1 594.4L334.8 596.2L336.5 599.4L338.2 602.1L340.0 591.9L341.9 587.3L343.5 587.8L345.1 595.0L346.8 599.9L348.4 600.3L350.1 600.1L351.8 598.1L353.5 596.0L355.2 597.2L356.9 599.3L358.6 595.6L360.5 590.3L362.3 581.7L364.1 586.9L366.0 593.8L367.8 596.6L369.2 590.3L370.6 587.3L372.5 592.3L374.3 599.9L376.2 602.1L377.7 598.9L379.3 594.5L380.8 591.0L382.5 589.9L384.1 591.9L385.8 594.7L387.4 589.3L389.1 594.3L390.7 594.8L392.4 595.5L394.0 594.9L395.7 593.8L397.4 593.2L399.0 589.1L400.7 586.9L402.3 583.7L404.0 581.7L405.5 583.1L407.1 592.0L408.6 593.8L410.2 599.2L411.7 601.9L413.3 608.6L415.1 596.6L417.0 584.5L418.8 588.7L420.7 592.3L422.5 597.5L423.9 593.3L425.3 591.2L426.7 588.5L428.1 584.5L429.7 586.3L431.4 586.5L433.0 585.1L434.6 589.1L436.1 589.3L437.6 590.9L439.0 595.2L440.5 598.7L442.0 598.4L443.6 597.5L445.2 594.9L446.8 592.4L448.3 586.4L449.9 587.2L451.5 583.6L453.1 579.9L455.0 579.6L456.8 581.3L458.7 586.4L460.1 581.9L461.5 584.7L462.9 580.0L464.3 579.9L466.1 581.0L468.0 587.4L469.8 590.1L471.4 588.1L472.9 585.4L474.5 584.8L476.0 585.9L477.6 582.7L479.1 583.6L480.6 580.0L482.1 580.4L483.5 576.6L485.0 573.6L486.5 572.4L488.4 581.1L490.2 590.1L492.0 579.3L493.9 574.3L495.3 576.6L496.7 579.9L498.1 581.5L499.5 586.4L501.0 584.4L502.5 589.5L503.9 587.5L505.4 586.1L506.9 588.2L508.4 586.7L510.0 585.8L511.6 578.8L513.1 576.6L514.7 575.2L516.2 575.2L517.7 578.6L519.2 577.2L520.6 582.5L522.1 584.4L523.6 585.4L525.1 581.8L526.6 576.0L528.0 576.6L529.5 571.7L531.0 566.0L532.4 570.7L533.8 573.6L535.2 580.8L536.6 584.5L538.1 582.5L539.7 582.2L541.2 579.3L542.8 579.8L544.4 574.9L545.9 576.2L547.7 575.9L549.6 580.8L551.4 578.9L552.8 577.9L554.2 571.3L555.6 571.4L557.0 566.0L558.5 566.7L560.1 572.3L561.6 573.0L563.1 572.9L564.7 573.8L566.2 577.1L568.1 574.2L569.9 579.4L571.8 577.1L573.2 571.8L574.6 573.9L576.0 572.2L577.4 566.9L579.0 566.7L580.6 563.6L582.2 567.1L583.8 567.1L585.3 564.8L586.9 563.0L588.5 561.5L590.1 560.7L591.7 559.2L593.3 560.3L594.9 560.7L596.6 558.7L598.2 556.6L599.8 555.5L601.5 558.2L603.1 555.4L604.7 556.0L606.4 554.4L608.0 554.8L609.6 558.6L611.1 560.3L612.7 556.6L614.3 559.3L615.9 561.6L617.4 567.2L619.0 565.8L620.8 561.1L622.6 553.0L624.1 552.0L625.6 551.3L627.0 554.0L628.5 555.0L630.0 553.0L631.5 555.6L633.0 552.1L634.5 555.3L636.0 554.1L637.5 552.9L639.0 553.0L640.6 554.8L642.2 549.1L643.9 550.9L645.5 545.9L647.1 545.3L648.8 548.6L650.4 543.2L652.0 543.8L653.6 545.8L655.2 545.2L656.9 547.1L658.5 544.7L660.1 544.9L661.7 545.0L663.4 548.9L665.0 547.7L666.6 547.5L668.3 546.5L670.0 540.0L671.6 542.0L673.1 537.2L674.7 539.4L676.3 536.5L677.9 535.8L679.4 535.7L681.0 538.0L683.0 534.7L685.0 527.0L686.5 529.4L688.0 530.3L689.5 528.0L691.0 530.4L692.5 532.0L694.0 531.0L695.8 526.1L697.5 523.2L699.2 517.0L701.0 514.5L703.0 519.2L705.0 529.0L706.5 526.7L708.0 529.6L709.5 526.7L711.0 528.0L712.5 524.3L714.0 523.7L715.5 519.4L717.0 519.5L718.5 516.8L720.0 509.0L721.5 509.0L723.0 510.4L724.5 507.4L726.0 507.9L727.5 512.9L729.0 511.0L730.3 499.0L731.6 492.6L733.2 494.2L734.8 501.9L736.4 501.7L738.0 505.4L739.5 501.0L741.0 499.1L742.5 497.4L744.0 498.3L745.5 492.4L747.0 492.6L748.6 495.8L750.1 493.4L751.7 497.7L753.3 498.1L754.9 495.2L756.4 495.7L758.0 498.0L760.0 488.7L762.0 479.7L763.6 478.6L765.1 483.3L766.7 480.9L768.3 482.1L769.9 489.2L771.4 486.4L773.0 489.0L774.6 488.3L776.1 486.0L777.7 483.9L779.3 481.1L780.9 484.8L782.4 483.8L784.0 479.7L785.6 481.7L787.1 475.7L788.7 475.5L790.3 477.1L791.9 478.5L793.4 475.1L795.0 474.0L796.7 470.9L798.3 466.6L800.0 461.4L801.7 462.5L803.4 466.7L805.1 467.8L806.8 470.0L808.5 474.0L810.1 466.0L811.8 461.7L813.4 460.4L815.0 452.0L816.7 452.4L818.3 454.2L820.0 454.0L821.5 453.1L823.1 453.0L824.6 447.9L826.2 445.6L827.7 445.0L829.3 442.6L830.8 441.3L832.4 443.1L834.0 442.1L835.6 437.2L837.1 436.1L838.7 435.8L840.2 437.2L841.6 438.5L843.1 439.7L844.5 438.7L846.0 441.3L847.4 435.4L848.8 433.8L850.2 429.8L851.6 429.4L853.1 431.7L854.6 430.8L856.2 432.8L857.7 438.1L859.2 438.1L860.7 441.3L862.4 433.9L864.0 423.0L865.5 420.8L867.1 420.8L868.6 414.3L870.2 414.2L871.7 412.0L873.5 422.9L875.4 430.3L876.9 426.4L878.4 430.3L879.9 424.4L881.5 426.6L883.0 426.6L884.5 424.3L886.0 421.0L887.5 427.3L889.0 435.8L890.6 429.3L892.2 427.6L893.9 425.9L895.5 419.3L897.0 421.4L898.6 428.4L900.1 427.3L901.6 435.2L903.2 433.3L904.7 439.5L906.5 435.1L908.3 433.0L909.9 435.5L911.6 435.0L913.2 435.8L914.8 435.5L916.5 435.0L918.1 434.8L919.7 431.8L921.4 433.5L923.0 434.0L924.6 434.0L926.2 439.4L927.8 441.2L929.4 440.7L931.0 441.6L932.6 449.1L934.2 450.2L935.8 450.4L937.6 446.7L939.5 442.7L941.3 438.5L942.9 442.8L944.4 442.6L946.0 444.5L947.6 446.4L949.2 448.1L950.7 448.9L952.3 454.0L954.1 459.5L956.0 463.3L957.8 461.0L959.6 459.6L961.1 463.7L962.6 464.3L964.0 469.8L965.5 472.1L967.0 478.0L968.6 473.6L970.2 472.2L971.8 473.4L973.4 468.6L975.0 467.0L976.9 463.6L978.7 461.4L980.2 465.7L981.7 467.1L983.2 472.4L984.7 476.2L986.3 486.0L987.8 492.6L989.6 491.7L991.5 491.6L993.3 489.8L995.1 487.0L997.0 486.1L998.8 482.5L1000.3 485.4L1001.9 484.0L1003.4 487.0L1004.9 488.4L1006.5 488.4L1008.0 491.6L1009.8 487.0L1011.6 483.4L1013.0 487.9L1014.4 491.6L1015.9 490.7L1017.5 487.4L1019.0 481.6L1020.8 484.5L1022.7 491.0L1024.5 494.4L1026.2 494.5L1028.0 500.0L1029.9 494.6L1031.8 494.4L1033.3 498.4L1034.9 504.5L1036.5 504.1L1038.0 510.0L1039.9 505.6L1041.8 498.0L1043.3 503.8L1044.9 503.9L1046.4 509.7L1047.9 514.1L1049.5 514.7L1051.0 519.0L1052.8 508.8L1054.7 496.2L1056.3 498.1L1057.8 497.7L1059.4 499.7L1061.0 498.0L1062.6 503.6L1064.2 507.2L1065.9 508.1L1067.5 510.9L1069.2 508.0L1070.9 507.6L1072.5 506.5L1074.2 507.7L1075.9 507.9L1077.6 505.4L1079.4 511.0L1081.2 521.9L1082.7 520.1L1084.3 517.4L1085.8 512.3L1087.3 510.4L1088.9 505.4L1090.4 504.5L1092.2 509.2L1094.1 508.4L1095.9 514.5L1097.5 519.2L1099.1 520.0L1100.8 520.8L1102.4 520.5L1104.0 523.7L1105.6 520.5L1107.2 515.0L1108.9 504.4L1110.5 500.8L1112.0 504.0L1113.6 505.9L1115.1 506.4L1116.6 508.1L1118.2 508.1L1119.7 510.0L1121.2 508.2L1122.8 504.2L1124.3 497.0L1125.9 501.1L1127.5 508.5L1129.1 511.1L1130.7 516.4L1132.3 509.3L1133.8 505.3L1135.4 499.0L1137.0 496.2L1138.9 503.7L1140.8 506.3L1142.5 508.1L1144.1 502.2L1145.8 504.2L1147.5 502.1L1149.1 499.4L1150.8 500.8L1152.7 497.3L1154.5 496.2L1156.0 496.1L1157.5 500.5L1159.0 497.4L1160.6 499.9L1162.1 502.7L1163.6 504.5L1165.2 502.3L1166.8 506.6L1168.4 507.2L1170.0 507.2L1171.5 505.8L1173.1 498.6L1174.6 497.0L1176.4 491.2L1178.2 488.2L1180.0 483.4L1181.5 485.4L1183.1 490.6L1184.7 492.0L1186.2 498.0L1187.8 502.0L1189.3 503.6L1191.2 498.2L1193.0 489.0L1194.5 493.6L1195.9 492.9L1197.4 494.3L1198.8 498.3L1200.3 498.0L1201.9 501.1L1203.6 501.4L1205.2 501.7L1206.9 502.6L1208.5 505.4L1210.0 497.8L1211.5 496.8L1213.0 489.8L1214.9 490.2L1216.7 496.8L1218.6 498.0L1220.4 493.8L1222.3 489.0L1223.8 494.3L1225.2 495.6L1226.7 499.5L1228.1 497.0L1229.6 501.7L1231.4 506.6L1233.2 511.9L1235.0 516.4L1236.8 502.9L1238.7 491.6L1240.2 492.9L1241.6 493.3L1243.1 495.6L1244.5 493.7L1246.0 498.0L1247.8 494.5L1249.7 491.6L1251.2 492.2L1252.6 492.3L1254.1 493.8L1255.5 497.0L1257.0 496.2L1258.5 494.0L1260.0 489.6L1261.4 487.2L1262.9 482.3L1264.4 479.7L1266.2 485.3L1268.0 494.4L1269.5 488.1L1271.0 486.5L1272.4 485.1L1273.9 483.5L1275.4 477.9L1277.2 482.2L1279.0 482.5L1280.5 478.7L1281.9 477.7L1283.4 470.7L1284.8 469.1L1286.3 463.3L1287.9 469.2L1289.4 477.6L1291.0 482.5L1292.6 481.9L1294.2 474.3L1295.8 470.0L1297.4 469.2L1299.0 465.0L1300.4 466.6L1301.8 467.0L1303.3 466.2L1304.7 470.6L1306.2 467.6L1307.6 465.4L1309.1 462.9L1310.5 463.2L1312.0 458.7L1313.8 460.7L1315.7 463.2L1317.5 463.3L1319.3 447.7L1320.9 450.3L1322.4 449.7L1324.0 448.4L1325.6 450.2L1327.2 449.8L1328.7 450.1L1330.3 449.5L1332.2 443.4L1334.0 435.8L1335.6 435.2L1337.1 436.6L1338.7 436.6L1340.3 438.4L1341.9 437.5L1343.4 437.9L1345.0 435.8L1346.5 431.9L1348.0 426.7L1349.5 419.3L1351.0 423.6L1352.5 425.7L1354.0 430.3L1355.6 429.4L1357.1 432.6L1358.7 434.1L1360.3 432.7L1361.9 430.9L1363.4 435.5L1365.0 434.0L1366.6 432.1L1368.2 430.1L1369.9 425.7L1371.5 426.6L1373.2 432.2L1375.0 437.6L1376.8 437.9L1378.7 434.7L1380.5 434.0L1382.3 432.8L1384.2 434.3L1386.0 433.0L1387.3 437.9L1388.7 448.6L1390.2 448.6L1391.8 451.3L1393.3 448.6L1394.9 449.9L1396.4 448.3L1398.0 450.1L1399.6 449.7L1401.2 447.5L1402.7 447.6L1404.3 449.5L1405.7 460.6L1407.0 467.0L1408.4 476.6L1409.8 489.0L1411.3 481.5L1412.9 481.1L1414.4 474.2L1416.2 480.7L1418.0 487.0L1419.8 483.5L1421.7 481.6L1423.3 484.9L1424.8 489.4L1426.4 489.2L1428.0 494.4L1429.9 496.5L1431.7 498.1L1433.6 498.0L1435.0 507.2L1436.4 512.7L1438.0 514.1L1439.6 518.9L1441.2 519.3L1442.8 523.7L1444.3 519.8L1445.8 513.2L1447.3 510.9L1449.1 521.8L1451.0 531.4L1452.8 538.4L1454.7 526.4L1456.5 516.4L1458.0 519.0L1459.5 527.7L1461.0 529.2L1462.9 532.9L1464.7 536.1L1466.6 536.5L1467.9 539.2L1469.3 547.5L1471.1 547.5L1473.0 543.4L1474.8 540.2L1476.4 542.5L1478.0 546.7L1479.6 552.1L1481.2 554.0L1483.1 548.4L1484.9 539.3L1486.8 545.2L1488.6 554.8L1490.1 554.3L1491.6 550.4L1493.2 554.0L1494.7 549.6L1496.2 551.2L1497.7 547.5L1499.3 550.7L1500.9 551.8L1502.5 551.6L1504.1 555.0L1505.7 554.5L1507.3 556.4L1508.9 561.7L1510.5 562.2L1512.0 559.3L1513.5 559.6L1514.9 554.5L1516.4 555.3L1517.9 552.0L1519.5 555.3L1521.0 554.8L1522.6 555.6L1524.1 559.3L1525.7 561.8L1527.2 561.4L1528.8 565.8L1530.3 560.6L1531.8 556.5L1533.2 556.5L1534.7 554.9L1536.2 549.3L1537.8 551.9L1539.4 555.2L1541.0 563.6L1542.6 566.7L1544.2 566.8L1545.8 565.8L1547.4 561.9L1549.0 558.4L1550.6 559.5L1552.2 553.4L1553.8 555.0L1555.4 552.0L1556.7 556.9L1558.0 566.7L1559.5 564.8L1561.0 564.1L1562.5 562.1L1564.0 559.6L1565.5 560.3L1566.8 544.5L1568.2 532.0L1569.7 542.2L1571.3 548.2L1572.8 556.7L1574.7 550.3L1576.5 543.0L1578.0 544.6L1579.4 550.8L1580.9 551.8L1582.3 556.7L1583.8 559.4L1585.7 555.5L1587.5 546.6L1589.0 549.2L1590.4 543.2L1591.9 547.3L1593.3 547.3L1594.8 544.8L1596.4 541.9L1598.1 540.4L1599.7 539.8L1601.4 540.0L1603.0 535.6L1604.4 539.1L1605.8 543.8L1607.2 548.3L1608.7 549.8L1610.1 548.3L1611.6 555.1L1613.0 554.8L1614.6 549.5L1616.1 547.8L1617.7 547.5L1619.2 552.8L1620.8 553.4L1622.3 560.3L1624.0 556.4L1625.6 551.7L1627.3 550.5L1629.0 549.5L1630.6 546.7L1632.3 541.1L1633.9 544.7L1635.4 551.3L1637.0 560.3L1638.8 558.7L1640.6 550.2L1642.4 549.3L1644.2 553.9L1646.0 561.2L1647.5 558.5L1649.0 558.0L1650.4 557.3L1651.9 560.6L1653.4 559.4L1654.9 562.1L1656.3 563.1L1657.8 565.3L1659.2 565.5L1660.7 565.8L1662.2 562.9L1663.6 562.2L1665.1 562.0L1666.5 557.8L1668.0 554.8L1669.4 559.7L1670.8 567.7L1672.3 562.2L1673.9 564.5L1675.4 559.5L1676.9 555.2L1678.5 553.8L1680.0 550.3L1681.5 553.7L1683.0 556.5L1684.5 559.4L1686.2 554.7L1687.8 554.5L1689.5 552.8L1691.1 549.5L1692.8 549.3L1694.4 553.8L1696.1 553.2L1697.7 556.9L1699.4 559.4L1701.0 560.3L1702.5 564.3L1703.9 566.8L1705.4 569.6L1706.8 569.1L1708.3 573.2L1710.2 570.6L1712.0 562.2L1713.8 559.8L1715.7 564.0L1717.5 561.2L1719.3 565.2L1721.2 567.0L1723.0 566.7L1724.6 561.9L1726.1 560.0L1727.7 562.3L1729.3 558.1L1730.9 555.4L1732.4 557.0L1734.0 552.0L1735.5 552.7L1736.9 559.2L1738.4 562.2L1739.8 563.8L1741.3 569.5L1742.9 567.9L1744.4 568.9L1746.0 569.0L1747.6 562.9L1749.2 565.0L1750.7 561.5L1752.3 563.0L1753.8 567.6L1755.2 566.0L1756.7 568.5L1758.1 573.3L1759.6 576.8L1761.4 573.3L1763.2 565.9L1765.0 562.2L1766.7 559.1L1768.3 562.2L1770.0 561.3L1771.7 560.7L1773.3 556.5L1775.0 556.8L1776.8 553.5L1778.7 551.2L1780.3 552.1L1781.9 556.3L1783.5 557.3L1785.0 559.8L1786.6 564.8L1788.2 568.3L1789.8 567.9L1791.2 565.2L1792.6 559.0L1794.0 559.1L1795.4 554.9L1797.1 557.7L1798.8 564.0L1800.5 565.5L1802.2 569.2L1803.9 571.5L1805.6 573.4L1807.1 568.1L1808.7 564.7L1810.2 556.8L1811.8 560.0L1813.3 558.0L1814.8 558.4L1816.4 561.0L1818.0 563.1L1819.5 564.2L1821.0 560.1L1822.6 559.9L1824.2 559.5L1825.7 554.7L1827.2 557.6L1828.8 554.0L1830.6 560.1L1832.5 563.3L1834.3 569.7L1836.2 559.7L1838.0 552.1L1839.5 554.7L1841.0 558.1L1842.5 564.2L1844.0 566.2L1845.5 569.7L1847.3 562.0L1849.2 554.0L1850.8 553.2L1852.4 559.1L1854.0 556.9L1855.5 558.2L1857.1 558.0L1858.7 564.8L1860.3 563.2L1861.7 560.8L1863.1 561.1L1864.5 558.9L1865.9 554.0L1867.7 563.6L1869.6 569.5L1871.4 574.4L1872.9 572.7L1874.4 568.4L1875.8 563.4L1877.3 555.1L1878.8 553.0L1880.3 553.3L1881.8 553.9L1883.3 556.6L1884.8 555.5L1886.3 554.0L1887.8 558.7L1889.3 562.5L1890.7 563.7L1892.2 570.7L1893.7 571.6L1895.2 568.7L1896.8 563.6L1898.3 560.2L1899.9 559.6L1901.5 553.2L1903.0 549.3L1904.5 549.7L1906.0 552.0L1907.4 557.7L1908.9 559.4L1910.4 561.4L1911.9 562.9L1913.4 557.7L1914.8 558.1L1916.3 559.1L1917.8 556.8L1919.6 557.2L1921.5 560.5L1923.3 566.0L1924.7 563.5L1926.1 559.0L1927.5 555.3L1928.9 554.9L1930.5 552.9L1932.0 554.5L1933.6 553.2L1935.1 549.9L1936.7 549.3L1938.2 551.2L1939.7 556.1L1941.3 557.6L1942.8 557.6L1944.3 564.5L1945.9 562.2L1947.4 567.9L1949.3 563.1L1951.1 561.9L1953.0 555.8L1954.6 556.7L1956.2 553.7L1957.8 556.9L1959.3 554.8L1960.9 556.0L1962.5 555.8L1964.1 553.0L1965.5 554.9L1966.9 558.7L1968.3 560.2L1969.7 562.3L1971.2 566.3L1972.7 566.7L1974.1 567.6L1975.6 569.4L1977.1 568.8L1978.6 568.1L1980.2 559.9L1981.8 555.9L1983.3 555.5L1984.9 551.9L1986.4 546.6L1988.3 553.5L1990.1 560.1L1992.0 567.0L1993.5 563.1L1995.0 562.6L1996.4 558.8L1997.9 554.1L1999.4 550.3L2000.9 546.6L2002.5 550.5L2004.0 547.3L2005.5 544.7L2007.1 544.4L2008.6 544.7L2010.0 549.5L2011.4 549.1L2012.8 553.5L2014.2 559.5L2015.7 555.5L2017.2 556.3L2018.6 552.6L2020.1 551.2L2021.6 545.6L2023.1 549.6L2024.7 553.5L2026.2 557.1L2027.8 560.6L2029.4 564.4L2030.9 567.9L2032.5 567.2L2034.0 565.4L2035.6 559.4L2037.1 558.1L2038.7 553.6L2040.2 552.1L2041.7 552.5L2043.3 555.2L2044.8 557.3L2046.3 558.6L2047.9 562.7L2049.4 561.4L2051.0 558.6L2052.6 560.6L2054.2 562.0L2055.8 559.6L2057.4 557.8L2059.0 555.8L2060.6 555.8L2062.1 557.3L2063.6 562.5L2065.0 564.3L2066.5 565.0L2068.0 566.0L2069.5 567.8L2071.0 567.4L2072.4 566.4L2073.9 563.1L2075.4 563.2L2077.0 562.3L2078.6 563.7L2080.2 560.5L2081.7 562.1L2083.3 559.8L2084.9 558.3L2086.5 558.6L2088.0 558.7L2089.5 557.1L2090.9 558.9L2092.4 559.6L2093.9 560.5L2095.8 553.6L2097.6 550.5L2099.5 548.4L2101.3 570.7L2102.8 565.9L2104.3 566.2L2105.8 561.2L2107.3 556.1L2108.8 554.0L2110.3 559.0L2111.8 556.6L2113.2 560.2L2114.7 563.6L2116.2 564.2L2117.7 567.6L2119.2 568.2L2120.6 572.5L2122.1 573.0L2123.6 575.3L2125.4 565.4L2127.3 553.0L2128.9 553.7L2130.5 557.4L2132.1 556.7L2133.6 553.7L2135.2 554.8L2136.8 560.6L2138.4 558.6L2139.9 556.1L2141.4 553.9L2142.9 554.4L2144.4 554.8L2145.9 554.0L2147.4 555.8L2148.9 551.5L2150.3 552.5L2151.8 552.2L2153.3 549.3L2155.1 552.4L2157.0 561.1L2158.8 566.0L2160.7 566.5L2162.5 561.4L2164.4 558.6L2166.1 559.0L2167.8 558.0L2169.4 561.7L2171.1 562.0L2172.8 557.0L2174.5 559.5" fill="none" stroke="#0070e4" stroke-width="7.0" stroke-linejoin="round" stroke-linecap="round"/>
</g>
<g stroke="#000" stroke-width="5" stroke-dasharray="29.5 27.14">
<line x1="878" y1="421" x2="872.6" y2="1509"/>
<line x1="1359.5" y1="421" x2="1354.3" y2="1509"/>
</g>
<rect x="178.5" y="40.5" width="1996" height="1468.8" fill="none" stroke="#000" stroke-width="7"/>
<line x1="178.5" y1="1509" x2="178.5" y2="1537.7" stroke="#000" stroke-width="7"/>
<line x1="378.1" y1="1509" x2="378.1" y2="1523.3" stroke="#000" stroke-width="7"/>
<line x1="577.7" y1="1509" x2="577.7" y2="1537.7" stroke="#000" stroke-width="7"/>
<line x1="777.3" y1="1509" x2="777.3" y2="1523.3" stroke="#000" stroke-width="7"/>
<line x1="976.9" y1="1509" x2="976.9" y2="1537.7" stroke="#000" stroke-width="7"/>
<line x1="1176.5" y1="1509" x2="1176.5" y2="1523.3" stroke="#000" stroke-width="7"/>
<line x1="1376.1" y1="1509" x2="1376.1" y2="1537.7" stroke="#000" stroke-width="7"/>
<line x1="1575.7" y1="1509" x2="1575.7" y2="1523.3" stroke="#000" stroke-width="7"/>
<line x1="1775.3" y1="1509" x2="1775.3" y2="1537.7" stroke="#000" stroke-width="7"/>
<line x1="1974.9" y1="1509" x2="1974.9" y2="1523.3" stroke="#000" stroke-width="7"/>
<line x1="2174.5" y1="1509" x2="2174.5" y2="1537.7" stroke="#000" stroke-width="7"/>
<g font-family="'Liberation Serif','Times New Roman',serif" fill="#000">
<text transform="translate(178.5 1615.8) scale(1 1.03)" font-size="77" text-anchor="middle">1000</text>
<text transform="translate(577.7 1615.8) scale(1 1.03)" font-size="77" text-anchor="middle">1200</text>
<text transform="translate(976.9 1615.8) scale(1 1.03)" font-size="77" text-anchor="middle">1400</text>
<text transform="translate(1376.1 1615.8) scale(1 1.03)" font-size="77" text-anchor="middle">1600</text>
<text transform="translate(1775.3 1615.8) scale(1 1.03)" font-size="77" text-anchor="middle">1800</text>
<text transform="translate(2174.5 1615.8) scale(1 1.03)" font-size="77" text-anchor="middle">2000</text>
</g>
<g stroke-width="7.3" stroke-linecap="round">
<line x1="1542.6" y1="126.3" x2="1711.6" y2="126.3" stroke="#0070e4"/>
<line x1="1542.6" y1="219.4" x2="1711.6" y2="219.4" stroke="#ff4040"/>
<line x1="1542.6" y1="312.6" x2="1711.6" y2="312.6" stroke="#505050"/>
</g>
<g font-family="'Liberation Serif','Times New Roman',serif" fill="#000">
<text transform="translate(1726.3 151.5) scale(1 0.99)" font-size="78">NBCS</text>
<text transform="translate(1726.3 244.7) scale(1 0.99)" font-size="78">NCS</text>
<text transform="translate(1729.8 337.8) scale(1 0.99)" font-size="78">CS</text>
<text transform="translate(1733.4 511.8) scale(1 1.04)" font-size="75.5"><tspan x="0">I</tspan><tspan x="25.2" dy="20.3" font-size="51.5">D</tspan><tspan x="62.6" dy="-20.3">/</tspan><tspan x="83.6">I</tspan><tspan x="109.4" dy="20.3" font-size="51.5">G</tspan><tspan x="144.4" dy="-20.3">=</tspan><tspan x="192.4 227.6 245.6 283.6">1.03</tspan></text>
<text transform="translate(1759.2 1032.9) scale(1 1.04)" font-size="75.5"><tspan x="0">I</tspan><tspan x="26.8" dy="20.3" font-size="51.5">D</tspan><tspan x="64.6" dy="-20.3">/</tspan><tspan x="83.6">I</tspan><tspan x="109.8" dy="20.3" font-size="51.5">G</tspan><tspan x="144.2" dy="-20.3">=</tspan><tspan x="189.8 229.6 248.2 284.4">0.94</tspan></text>
<text transform="translate(1778.4 1314.7) scale(1 1.04)" font-size="75.5"><tspan x="0">I</tspan><tspan x="24.2" dy="20.3" font-size="51.5">D</tspan><tspan x="63.2" dy="-20.3">/</tspan><tspan x="82.6">I</tspan><tspan x="108.0" dy="20.3" font-size="51.5">G</tspan><tspan x="142.8" dy="-20.3">=</tspan><tspan x="189.0 227.2 246.8 281.6">0.97</tspan></text>
<text transform="translate(852.3 1730.0) scale(1 1.035)" font-size="76.5">Ranman shift (cm<tspan x="544.5" dy="-29.5" stroke="#000" stroke-width="1.4">-</tspan><tspan x="573" dy="-1.5">1</tspan><tspan x="608" dy="31">)</tspan></text>
<text transform="translate(77 992) rotate(-90) scale(1 1.015)" font-size="76.5">Intensity (a.u.)</text>
</g>
</svg>
</body></html>
